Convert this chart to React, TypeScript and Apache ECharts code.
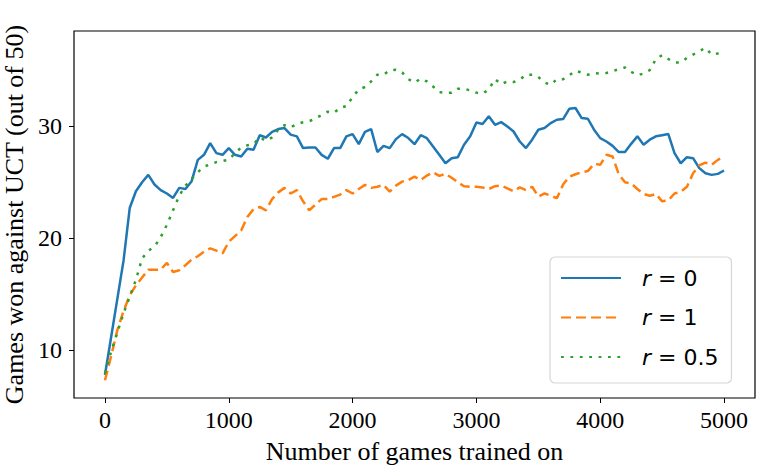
import React, { useEffect, useRef } from "react";
import * as echarts from "echarts";

const xValues: number[] = [];
for (let i = 0; i <= 100; i++) xValues.push(i * 50);

const r0: number[] = [
  7.8, 11.2, 14.6, 18.0, 22.7, 24.2, 25.0, 25.66, 24.8, 24.3,
  24.0, 23.6, 24.5, 24.4, 25.1, 27.0, 27.45, 28.5, 27.6, 27.45,
  28.05, 27.45, 27.3, 28.0, 27.9, 29.2, 29.0, 29.5, 29.75, 29.84,
  29.25, 29.1, 28.05, 28.1, 28.1, 27.45, 27.1, 28.05, 28.05, 29.1,
  29.3, 28.4, 29.5, 29.75, 27.7, 28.25, 28.05, 28.85, 29.3, 28.95,
  28.4, 29.2, 28.94, 28.2, 27.45, 26.7, 27.15, 27.24, 28.35, 29.1,
  30.34, 30.2, 30.9, 30.13, 30.37, 29.98, 29.53, 28.64, 28.05, 28.8,
  29.69, 29.84, 30.28, 30.58, 30.64, 31.56, 31.63, 30.73, 30.67, 29.69,
  28.94, 28.64, 28.25, 27.7, 27.7, 28.43, 29.1, 28.35, 28.8, 29.1,
  29.2, 29.3, 27.6, 26.7, 27.24, 27.15, 26.26, 25.8, 25.66, 25.75,
  26.05,
];

const r1: number[] = [
  7.33, 9.5, 11.8, 13.5, 14.9, 15.8, 16.5, 17.2, 17.2, 17.2,
  17.8, 17.0, 17.15, 17.6, 18.1, 18.4, 18.8, 19.1, 18.9, 18.66,
  19.7, 20.2, 20.7, 21.9, 22.6, 22.8, 22.5, 23.5, 24.1, 24.5,
  24.0, 24.3, 23.3, 22.5, 23.0, 23.5, 23.5, 23.7, 23.9, 24.3,
  24.0, 24.4, 24.77, 24.5, 24.6, 24.77, 24.17, 24.7, 25.06, 25.2,
  25.5, 25.2, 25.6, 25.9, 25.57, 25.75, 25.4, 25.0, 24.65, 24.6,
  24.6, 24.53, 24.4, 24.65, 24.7, 24.45, 24.2, 24.55, 24.3, 24.6,
  23.72, 24.0, 23.8, 23.58, 24.8, 25.5, 25.72, 25.9, 26.0, 26.65,
  26.56, 27.45, 27.3, 25.7, 25.0, 24.9, 24.4, 23.96, 23.8, 23.96,
  23.3, 23.4, 24.0, 24.15, 24.6, 25.8, 26.5, 26.76, 26.56, 27.0,
  27.3,
];

const r05: number[] = [
  7.95, 9.9, 11.6, 13.3, 14.8, 16.3, 18.2, 18.9, 19.25, 20.1,
  21.2, 22.5, 23.8, 24.7, 25.3, 25.9, 26.4, 26.6, 26.8, 26.9,
  27.0, 27.6, 28.1, 28.3, 28.4, 29.0, 28.7, 29.0, 29.7, 30.1,
  29.9, 30.2, 30.35, 30.45, 30.7, 31.0, 31.3, 31.2, 31.65, 31.8,
  32.6, 33.3, 33.5, 34.0, 34.6, 34.6, 35.0, 35.05, 34.8, 34.2,
  33.9, 34.25, 34.0, 33.55, 33.05, 32.97, 33.0, 33.35, 33.35, 33.2,
  33.0, 32.9, 33.3, 34.2, 33.75, 34.0, 33.95, 34.15, 34.6, 34.6,
  34.4, 33.9, 33.7, 34.2, 34.2, 34.55, 34.95, 34.8, 34.6, 34.75,
  34.7, 34.75, 34.9, 35.1, 35.25, 34.85, 34.55, 34.7, 35.0, 36.0,
  36.35, 36.0, 35.7, 35.7, 36.1, 36.4, 36.7, 37.0, 36.4, 36.5,
  36.7,
];

const seriesNames = ["r = 0", "r = 1", "r = 0.5"];
const xTicks = [0, 1000, 2000, 3000, 4000, 5000];
const yTicks = [10, 20, 30];

const SERIF = "'Liberation Serif', 'DejaVu Serif', serif";
const SANS = "'DejaVu Sans', 'Noto Sans', sans-serif";

export default function App() {
  const ref = useRef<HTMLDivElement>(null);
  useEffect(() => {
    if (!ref.current) return;
    const chart = echarts.init(ref.current, null, { renderer: "svg" });
    const pair = (ys: number[]) => xValues.map((x, i) => [x, ys[i]]);
    chart.setOption({
      animation: false,
      backgroundColor: "#ffffff",
      grid: {
        left: 74,
        right: 3,
        top: 31,
        bottom: 70,
        show: true,
        borderColor: "#000",
        borderWidth: 1.2,
        backgroundColor: "transparent",
        containLabel: false,
        outerBoundsMode: "none",
      },
      xAxis: {
        type: "value",
        min: -250,
        max: 5250,
        splitLine: { show: false },
        axisLine: { show: false, onZero: false },
        axisTick: {
          show: true,
          length: 5,
          lineStyle: { color: "#000", width: 1 },
          customValues: xTicks,
        },
        axisLabel: {
          customValues: xTicks,
          formatter: (v: number) => String(v),
          color: "#000",
          fontFamily: SERIF,
          fontSize: 24,
          margin: 10,
        },
        name: "Number of games trained on",
        nameLocation: "middle",
        nameGap: 40,
        nameTextStyle: { color: "#000", fontFamily: SERIF, fontSize: 26 },
      },
      yAxis: {
        type: "value",
        min: 5.75,
        max: 38.5,
        splitLine: { show: false },
        axisLine: { show: false, onZero: false },
        axisTick: {
          show: true,
          length: 5,
          lineStyle: { color: "#000", width: 1 },
          customValues: yTicks,
        },
        axisLabel: {
          customValues: yTicks,
          formatter: (v: number) => String(v),
          color: "#000",
          fontFamily: SERIF,
          fontSize: 24,
          margin: 12,
        },
        name: "Games won against UCT (out of 50)",
        nameLocation: "middle",
        nameRotate: 90,
        nameGap: 44,
        nameTextStyle: { color: "#000", fontFamily: SERIF, fontSize: 26 },
      },
      legend: {
        orient: "vertical",
        left: 550,
        top: 257,
        padding: [10, 13, 15, 10],
        itemGap: 17.5,
        itemWidth: 60,
        itemHeight: 22,
        backgroundColor: "rgba(255,255,255,0.8)",
        borderColor: "#d6d6d6",
        borderWidth: 1.2,
        borderRadius: 5,
        itemStyle: { opacity: 0 },
        data: seriesNames,
        formatter: (name: string) => "{i|r}{n|" + name.slice(1) + "}",
        textStyle: {
          padding: [0, 0, 0, 16],
          rich: {
            i: { fontFamily: SANS, fontStyle: "italic", fontSize: 22, color: "#000", lineHeight: 22 },
            n: { fontFamily: SANS, fontSize: 22, color: "#000", lineHeight: 22 },
          },
        },
      },
      series: [
        {
          name: seriesNames[0],
          type: "line",
          data: pair(r0),
          symbol: "none",
          lineStyle: { color: "#1f77b4", width: 2.5, type: "solid" },
          itemStyle: { color: "#1f77b4" },
        },
        {
          name: seriesNames[1],
          type: "line",
          data: pair(r1),
          symbol: "none",
          lineStyle: { color: "#ff7f0e", width: 2.5, type: [10, 5] },
          itemStyle: { color: "#ff7f0e" },
        },
        {
          name: seriesNames[2],
          type: "line",
          data: pair(r05),
          symbol: "none",
          lineStyle: { color: "#2ca02c", width: 2.5, type: [2.8, 6.6] },
          itemStyle: { color: "#2ca02c" },
        },
      ],
    });
    return () => chart.dispose();
  }, []);
  return (
    <div
      ref={ref}
      style={{ position: "fixed", left: 0, top: 0, width: 758, height: 468 }}
    />
  );
}
